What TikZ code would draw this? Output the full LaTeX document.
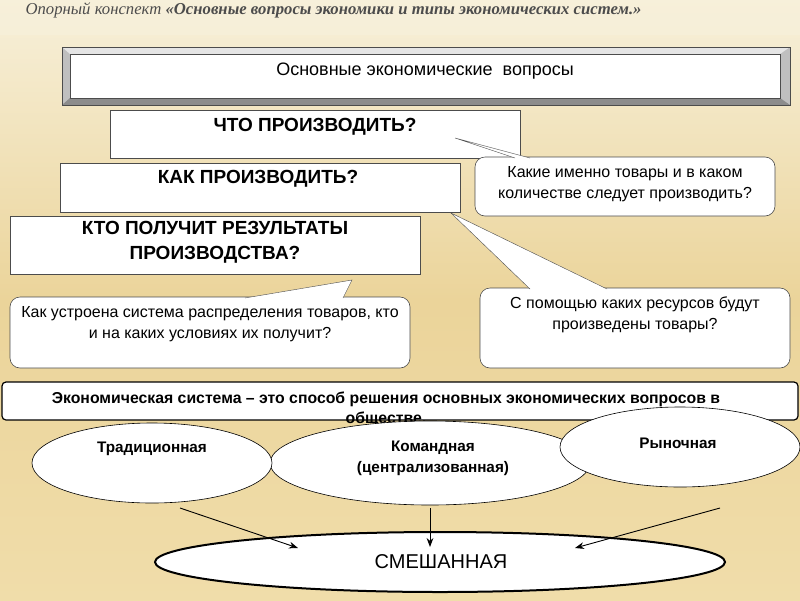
\documentclass[tikz,border=0pt]{standalone}
\usepackage{fontspec}
\setmainfont{Liberation Sans}
\newfontfamily\titlefont{Liberation Serif}
\usetikzlibrary{arrows.meta}
\definecolor{bgtop}{HTML}{F7F0DA}
\definecolor{bgmid}{HTML}{EBD49A}
\definecolor{bgbot}{HTML}{F0DDAA}
\tikzset{
 qbox/.style={draw=black!70,fill=white,line width=0.6pt},
 cbox/.style={draw=black!70,fill=white,rounded corners=10pt,line width=0.6pt},
 ell/.style={draw=black,fill=white,line width=0.6pt},
 arr/.style={-{Stealth[length=9pt]},line width=0.9pt},
 qtext/.style={font=\bfseries\fontsize{19}{25}\selectfont,align=center},
 ctext/.style={font=\fontsize{16}{21}\selectfont,align=center}
}
\begin{document}
\begin{tikzpicture}[x=1pt,y=-1pt]
\shade[top color=bgtop,bottom color=bgbot,middle color=bgmid] (0,0) rectangle (800,600);
\fill[bgtop,opacity=0.8] (0,0) rectangle (800,35);
\useasboundingbox (0,0) rectangle (800,600);
\node[anchor=west,font=\titlefont\fontsize{16.7}{19}\selectfont,text=black!70] (title) at (22,10) {\itshape Опорный конспект \textbf{«Основные вопросы экономики и типы экономических систем.»}};
% bevel box
\fill[black!25] (62,47) rectangle (790,105);
\fill[black!10] (62,47) -- (790,47) -- (780,54) -- (70,54) -- cycle;
\fill[black!45] (62,105) -- (790,105) -- (780,98) -- (70,98) -- cycle;
\draw[black!70] (62,47) rectangle (790,105);
\draw[fill=white,draw=black!70] (70,54) rectangle (780,98);
\node[font=\fontsize{18}{22}\selectfont] (main) at (425,71) {Основные экономические \ вопросы};
% question boxes
\draw[qbox] (110,110) rectangle (520,158);
\node[qtext] (q1) at (315,127) {ЧТО ПРОИЗВОДИТЬ?};
\draw[qbox] (60,163) rectangle (460,212);
\node[qtext] (q2) at (258,179) {КАК ПРОИЗВОДИТЬ?};
\draw[qbox] (10,216) rectangle (420,274);
\node[qtext] (q3) at (215,242) {КТО ПОЛУЧИТ РЕЗУЛЬТАТЫ\\ПРОИЗВОДСТВА?};
% callouts
\draw[cbox] (475,157) rectangle (775,216);
\filldraw[fill=white,draw=black!70] (515,158) -- (455,138) -- (530,158);
\node[ctext] (c1) at (625,184) {Какие именно товары и в каком\\количестве следует производить?};
\draw[cbox] (480,288) rectangle (790,368);
\filldraw[fill=white,draw=black!70] (530,289) -- (451,213) -- (607,289);
\node[ctext] (c2) at (635,315) {С помощью каких ресурсов будут\\произведены товары?};
\draw[cbox] (10,297) rectangle (410,368);
\filldraw[fill=white,draw=black!70] (245,298) -- (352,280) -- (343,298);
\node[ctext] (c3) at (210,324) {Как устроена система распределения товаров, кто\\и на каких условиях их получит?};
% definition
\draw[fill=white,rounded corners=4pt,line width=1.2pt] (2,382) rectangle (798,420);
\node[font=\bfseries\fontsize{15.8}{20}\selectfont,align=center] (def) at (386,409) {Экономическая система – это способ решения основных экономических вопросов в\\обществе.};
% ellipses
\draw[ell] (430,463) ellipse (160 and 42);
\draw[ell] (152,463) ellipse (120 and 40);
\draw[ell] (680,447) ellipse (120 and 40);
\node[font=\bfseries\fontsize{15.3}{18}\selectfont] (e1) at (152,449) {Традиционная};
\node[font=\bfseries\fontsize{15.3}{21}\selectfont,align=center] (e2) at (433,458) {Командная\\(централизованная)};
\node[font=\bfseries\fontsize{15.3}{18}\selectfont] (e3) at (678,443) {Рыночная};
\draw[ell,line width=2pt] (440,562) ellipse (285 and 30);
\node[font=\fontsize{20}{24}\selectfont] (mix) at (441,562) {СМЕШАННАЯ};
\coordinate (a1) at (180,508); \coordinate (b1) at (298,548);
\coordinate (a2) at (430,508); \coordinate (b2) at (430,547);
\coordinate (a3) at (720,508); \coordinate (b3) at (575,548);
\draw[arr] (a1) -- (b1);
\draw[arr] (a2) -- (b2);
\draw[arr] (a3) -- (b3);
\end{tikzpicture}
\end{document}
